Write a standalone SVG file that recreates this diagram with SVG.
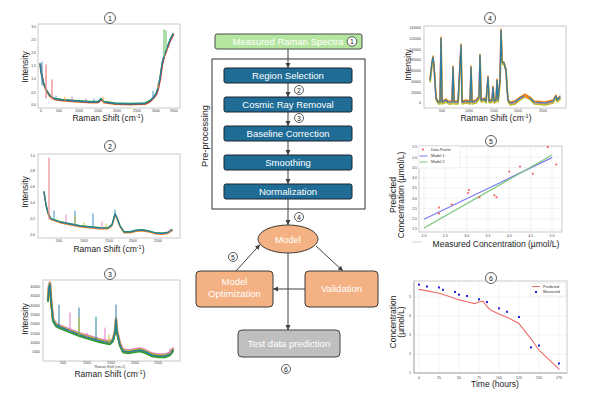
<svg xmlns="http://www.w3.org/2000/svg" width="600" height="400" viewBox="0 0 600 400">
<defs>
<style>
.frame{fill:#fff;stroke:#c9c9c9;stroke-width:1}
.tk{font-family:"Liberation Sans",Arial,sans-serif;font-size:3.5px;fill:#444}
.tkr{text-anchor:end}
.tkm{text-anchor:middle}
.ax{font-family:"Liberation Sans",Arial,sans-serif;font-size:8.5px;fill:#222;text-anchor:middle}
.cn circle{fill:#fff;stroke:#333;stroke-width:0.8}
.cn text{font-family:"Liberation Sans",Arial,sans-serif;font-size:7px;fill:#222;text-anchor:middle}
.blue rect{fill:#1f6d97;stroke:#1a2530;stroke-width:1}
.wt{font-family:"Liberation Sans",Arial,sans-serif;font-size:9.5px;fill:#fff;text-anchor:middle}
.org{fill:#f4b183;stroke:#3a3a3a;stroke-width:1}
.conn{stroke:#404040;stroke-width:1;fill:none;marker-end:url(#ah)}
.grid{stroke:#e6e6e6;stroke-width:0.5;fill:none}
.sp{fill:none;stroke-linejoin:round;stroke-linecap:round}
.lg{font-family:"Liberation Sans",Arial,sans-serif;font-size:3.8px;fill:#333}
</style>
<marker id="ah" markerWidth="6" markerHeight="6" refX="5" refY="3" orient="auto" markerUnits="userSpaceOnUse"><path d="M0,0.5 L5,3 L0,5.5 z" fill="#404040"/></marker>
<path id="s1" d="M40,64 L41,72 L43,82 L46,90 L50,96 L55,99 L62,100 L75,101 L90,102 L98,102 L101,99 L104,102 L115,103.5 L130,104 L145,103.5 L150,101 L153,98 L156,94 L158,88 L160,78 L162,64 L164,56 L167,48 L170,40 L173,34"/>
<path id="s2" d="M44,192 L46,205 L48,213 L51,219 L54,220 L60,222 L70,224 L80,226 L90,227 L100,228 L108,228 L112,225 L115,214 L117,218 L120,226 L124,232 L130,232 L136,230.5 L142,230 L148,231 L155,233 L162,233.5 L168,232.5 L172,230"/>
<path id="s3" d="M48,300 L49,287 L50,284 L51,300 L53,320 L56,325 L60,327 L70,331 L80,335 L90,338 L100,341 L110,343 L113,340 L115,332 L116,320 L117,332 L120,345 L123,351 L128,352 L134,351 L140,350 L146,352 L152,355 L158,356 L165,356 L170,354 L173,350"/>
<path id="s4" d="M430,80 L432,62 L433,57 L434,66 L436,98 L438,102 L440,102 L441,38 L442,102 L446,100 L448,102 L452,102 L453,67 L454,102 L458,102 L461,45 L462,102 L466,101 L470,102 L471,67 L472,102 L476,101 L479,97 L480,55 L481,100 L484,99 L486,101 L488,77 L489,101 L492,100 L493,87 L494,101 L496,100 L497,80 L498,100 L500,80 L501,30 L502,62 L504,63 L506,70 L507,88 L508,100 L510,103 L515,102 L520,98 L525,95 L530,98 L534,102 L545,103 L553,101 L556,96 L557,100 L560,97"/>
</defs>
<rect width="600" height="400" fill="#fff"/>

<!-- Plot 1 -->
<g id="plot1">
<rect class="frame" x="38" y="24" width="142" height="84"/>
<g class="tk tkr"><text x="36" y="28.2">3.0</text><text x="36" y="41.2">2.5</text><text x="36" y="54.2">2.0</text><text x="36" y="67.2">1.5</text><text x="36" y="80.2">1.0</text><text x="36" y="94.2">0.5</text><text x="36" y="106.2">0.0</text></g>
<g class="tk tkm"><text x="41" y="112">0</text><text x="59" y="112">500</text><text x="79" y="112">1000</text><text x="98" y="112">1500</text><text x="117" y="112">2000</text><text x="137" y="112">2500</text><text x="156" y="112">3000</text><text x="174" y="112">3500</text></g>
<g class="sp">
<use href="#s1" stroke="#ff7f0e" stroke-width="1.4" transform="translate(0,0.8)"/>
<use href="#s1" stroke="#d62728" stroke-width="1.2" transform="translate(0.6,0.4)"/>
<use href="#s1" stroke="#2ca02c" stroke-width="1.2" transform="translate(0,-0.6)"/>
<use href="#s1" stroke="#2b7fa3" stroke-width="1.3"/>
<path d="M46,98V65M52,99V80" stroke="#ec8b8a" stroke-width="1.3"/>
<path d="M42,85V62M56,99.5V96M94,102V99M153,98V91" stroke="#3a8fc8" stroke-width="0.9"/>
<path d="M65,100.5V97M158,88V84M103,102V97" stroke="#ff9f40" stroke-width="0.9"/>
<path d="M72,101V97M86,102V99" stroke="#9467bd" stroke-width="0.9"/>
<path d="M164,56V30M166,50V31" stroke="#86cf86" stroke-width="1.4"/>
</g>
<text class="ax" transform="translate(28,67) rotate(-90)">Intensity</text>
<text class="ax" x="108" y="121">Raman Shift (cm<tspan font-size="5.5" dy="-3">-1</tspan><tspan dy="3">)</tspan></text>
<g class="cn"><circle cx="110" cy="18" r="5.5"/><text x="110" y="20.6">1</text></g>
</g>

<!-- Plot 2 -->
<g id="plot2">
<rect class="frame" x="38" y="154" width="142" height="84"/>
<g class="tk tkr"><text x="35" y="157.2">1.0</text><text x="35" y="172.2">0.8</text><text x="35" y="188.2">0.6</text><text x="35" y="204.2">0.4</text><text x="35" y="220.2">0.2</text><text x="35" y="236.2">0.0</text></g>
<g class="tk tkm"><text x="59" y="242">500</text><text x="84" y="242">1000</text><text x="109" y="242">1500</text><text x="133" y="242">2000</text><text x="158" y="242">2500</text></g>
<g class="sp">
<use href="#s2" stroke="#ff7f0e" stroke-width="1.4" transform="translate(0,0.7)"/>
<use href="#s2" stroke="#2ca02c" stroke-width="1.2" transform="translate(0,-0.5)"/>
<use href="#s2" stroke="#2b7fa3" stroke-width="1.3"/>
<path d="M49,219V158" stroke="#ec8b8a" stroke-width="1.2"/>
<path d="M54,219V211M75,224V211M93,227V214M115,214V210" stroke="#3a8fc8" stroke-width="1"/>
<path d="M66,222V215M102,228V222M170,232V229" stroke="#e377c2" stroke-width="0.9"/>
<path d="M84,226V223M106,228V224M75,224V216" stroke="#bcbd22" stroke-width="0.9"/>
</g>
<text class="ax" transform="translate(28,192) rotate(-90)">Intensity</text>
<text class="ax" x="109" y="252">Raman Shift (cm<tspan font-size="5.5" dy="-3">-1</tspan><tspan dy="3">)</tspan></text>
<g class="cn"><circle cx="110" cy="146" r="5.5"/><text x="110" y="148.6">2</text></g>
</g>

<!-- Plot 3 -->
<g id="plot3">
<rect class="frame" x="43" y="280" width="137" height="81"/>
<g class="tk tkr"><text x="40" y="288.2">40000</text><text x="40" y="297.2">35000</text><text x="40" y="307.2">30000</text><text x="40" y="316.2">25000</text><text x="40" y="325.2">20000</text><text x="40" y="335.2">15000</text><text x="40" y="344.2">10000</text><text x="40" y="353.2">5000</text></g>
<g class="tk tkm"><text x="63" y="364">500</text><text x="87" y="364">1000</text><text x="111" y="364">1500</text><text x="135" y="364">2000</text><text x="158" y="364">2500</text></g>
<text class="tk tkm" x="110" y="367.5" font-size="2.2">Raman Shift (cm-1)</text>
<g class="sp">
<use href="#s3" stroke="#e377c2" stroke-width="2.4" transform="translate(0,-1.5)"/>
<use href="#s3" stroke="#bcbd22" stroke-width="2.4" transform="translate(0,-0.5)"/>
<use href="#s3" stroke="#ff7f0e" stroke-width="2" transform="translate(0,0.8)"/>
<use href="#s3" stroke="#2ca02c" stroke-width="1.6" transform="translate(0,1.5)"/>
<use href="#s3" stroke="#2b7fa3" stroke-width="1.4"/>
<path d="M59,327V305M79,335V308M116,320V305M96,339V317" stroke="#2b7fa3" stroke-width="1"/>
<path d="M70,331V313M105,342V328M87,337V333M170,354V349" stroke="#e377c2" stroke-width="1"/>
<path d="M109,343V335M79,335V318" stroke="#bcbd22" stroke-width="1"/>
</g>
<text class="ax" transform="translate(28,319) rotate(-90)">Intensity</text>
<text class="ax" x="110" y="377">Raman Shift (cm<tspan font-size="5.5" dy="-3">-1</tspan><tspan dy="3">)</tspan></text>
<g class="cn"><circle cx="110" cy="274" r="5.5"/><text x="110" y="276.6">3</text></g>
</g>

<!-- Plot 4 -->
<g id="plot4">
<rect class="frame" x="424" y="26" width="142" height="82"/>
<g class="tk tkr"><text x="421" y="104.2">0</text><text x="421" y="93.5">20000</text><text x="421" y="82.8">40000</text><text x="421" y="72.1">60000</text><text x="421" y="61.4">80000</text><text x="421" y="50.7">100000</text><text x="421" y="40">120000</text><text x="421" y="29.3">140000</text></g>
<g class="tk tkm"><text x="442" y="112">500</text><text x="469" y="112">1000</text><text x="494" y="112">1500</text><text x="518" y="112">2000</text><text x="543" y="112">2500</text></g>
<g class="sp">
<use href="#s4" stroke="#e377c2" stroke-width="1.6" transform="translate(0,1)"/>
<use href="#s4" stroke="#bcbd22" stroke-width="1.4" transform="translate(0.3,2)"/>
<use href="#s4" stroke="#ff7f0e" stroke-width="1.3" transform="translate(0,-1)"/>
<use href="#s4" stroke="#2b7fa3" stroke-width="1.2"/>
<path d="M525,95.5 L528,97" stroke="#ff7f0e" stroke-width="2.5"/>
</g>
<text class="ax" transform="translate(411,65) rotate(-90)">Intensity</text>
<text class="ax" x="496" y="121">Raman Shift (cm<tspan font-size="5.5" dy="-3">-1</tspan><tspan dy="3">)</tspan></text>
<g class="cn"><circle cx="490" cy="18" r="5.5"/><text x="490" y="20.6">4</text></g>
</g>

<!-- Plot 5 -->
<g id="plot5">
<rect class="frame" x="419" y="146" width="143" height="86"/>
<path class="grid" d="M419,229H562M419,218.75H562M419,208.5H562M419,198.25H562M419,188H562M419,177.75H562M419,167.5H562M419,157.25H562M419,147H562M424,146V232M445.3,146V232M466.7,146V232M488,146V232M509.3,146V232M530.7,146V232M552,146V232"/>
<g class="tk tkr"><text x="417" y="230.2">1.5</text><text x="417" y="220">2.0</text><text x="417" y="209.7">2.5</text><text x="417" y="199.5">3.0</text><text x="417" y="189.2">3.5</text><text x="417" y="179">4.0</text><text x="417" y="168.7">4.5</text><text x="417" y="158.5">5.0</text><text x="417" y="148.2">5.5</text></g>
<g class="tk tkm"><text x="424" y="236.5">2.0</text><text x="445.3" y="236.5">2.5</text><text x="466.7" y="236.5">3.0</text><text x="488" y="236.5">3.5</text><text x="509.3" y="236.5">4.0</text><text x="530.7" y="236.5">4.5</text><text x="552" y="236.5">5.0</text></g>
<line x1="424" y1="219.2" x2="552" y2="157.6" stroke="#7b7bf0" stroke-width="1.2"/>
<line x1="424" y1="228" x2="552" y2="155" stroke="#78c878" stroke-width="1.2"/>
<g fill="#f05050">
<circle cx="438.9" cy="207.5" r="1"/><circle cx="438.9" cy="213.6" r="1"/><circle cx="451.7" cy="204.4" r="1"/><circle cx="468.8" cy="190" r="1"/><circle cx="468" cy="193.1" r="1"/><circle cx="479.5" cy="197.2" r="1"/><circle cx="494.4" cy="195.2" r="1"/><circle cx="496.5" cy="197.2" r="1"/><circle cx="509.3" cy="171.6" r="1"/><circle cx="520" cy="166.5" r="1"/><circle cx="532.8" cy="173.7" r="1"/><circle cx="547.7" cy="147" r="1"/><circle cx="556.3" cy="164.4" r="1"/>
</g>
<rect x="418" y="146" width="42" height="22" rx="1" fill="#fff" fill-opacity="0.85" stroke="#ddd" stroke-width="0.5"/>
<circle cx="423" cy="149.5" r="1" fill="#f05050"/>
<line x1="419.5" y1="156" x2="427.5" y2="156" stroke="#7b7bf0" stroke-width="1"/>
<line x1="419.5" y1="162" x2="427.5" y2="162" stroke="#78c878" stroke-width="1"/>
<text class="lg" x="431" y="150.8">Data Points</text>
<text class="lg" x="431" y="157.3">Model 1</text>
<text class="lg" x="431" y="163.3">Model 2</text>
<line x1="412" y1="242" x2="422" y2="242" stroke="#ccc" stroke-width="0.8"/>
<text class="ax" font-size="7.5" transform="translate(396,195) rotate(-90)">Predicted</text>
<text class="ax" font-size="7.5" transform="translate(404,195) rotate(-90)">Concentration (µmol/L)</text>
<text class="ax" font-size="8" x="496" y="247">Measured Concentration (µmol/L)</text>
<g class="cn"><circle cx="491" cy="141" r="5.5"/><text x="491" y="143.6">5</text></g>
</g>

<!-- Plot 6 -->
<g id="plot6">
<rect class="frame" x="414" y="281" width="153" height="92"/>
<path class="grid" d="M414,297H567M414,316H567M414,335H567M414,354H567M419,281V373M439,281V373M459,281V373M479,281V373M499,281V373M519,281V373M539,281V373M559,281V373"/>
<path d="M414,281V373H567" fill="none" stroke="#999" stroke-width="0.6"/>
<g class="tk tkr"><text x="411" y="374.2">1</text><text x="411" y="355.2">2</text><text x="411" y="336.2">3</text><text x="411" y="317.2">4</text><text x="411" y="298.2">5</text></g>
<g class="tk tkm"><text x="419" y="378.5">0</text><text x="439" y="378.5">25</text><text x="459" y="378.5">50</text><text x="479" y="378.5">75</text><text x="499" y="378.5">100</text><text x="519" y="378.5">125</text><text x="539" y="378.5">150</text><text x="559" y="378.5">175</text></g>
<polyline class="sp" stroke="#ee6a6a" stroke-width="1.1" points="419,289.4 427,290.9 439,293.2 451,297 459,299.9 467,301.75 475,303.65 479,301.75 483,301.2 487,306.5 491,310.3 499,314.1 508.6,317.9 519,323.6 531,338.8 539,350.2 559,369.2"/>
<g fill="#2020e0">
<rect x="418" y="283.6" width="2" height="2"/><rect x="426" y="285.5" width="2" height="2"/><rect x="438" y="286.5" width="2" height="2"/><rect x="442" y="288.8" width="2" height="2"/><rect x="454" y="290.9" width="2" height="2"/><rect x="458" y="293.7" width="2" height="2"/><rect x="466" y="295" width="2" height="2"/><rect x="478" y="298.3" width="2" height="2"/><rect x="486" y="301.1" width="2" height="2"/><rect x="498" y="307.4" width="2" height="2"/><rect x="506" y="310.8" width="2" height="2"/><rect x="518" y="316" width="2" height="2"/><rect x="530" y="346.4" width="2" height="2"/><rect x="538" y="344.5" width="2" height="2"/><rect x="558" y="362.5" width="2" height="2"/>
</g>
<rect x="530" y="283" width="36" height="13" rx="1" fill="#fff" stroke="#ddd" stroke-width="0.5"/>
<line x1="532" y1="286.5" x2="540" y2="286.5" stroke="#ee6a6a" stroke-width="1"/>
<rect x="535" y="291" width="2" height="2" fill="#2020e0"/>
<text class="lg" font-size="3.5" x="543" y="287.8">Predicted</text>
<text class="lg" font-size="3.5" x="543" y="293.3">Measured</text>
<text class="ax" font-size="8" transform="translate(396,322) rotate(-90)">Concentration</text>
<text class="ax" font-size="8" transform="translate(404,322) rotate(-90)">(µmol/L)</text>
<text class="ax" font-size="8" x="495" y="387">Time (hours)</text>
<g class="cn"><circle cx="491" cy="278" r="5.5"/><text x="491" y="280.6">6</text></g>
</g>

<!-- Flowchart -->
<g id="preprocessing">
<rect x="212" y="59" width="153" height="150" fill="#fff" stroke="#333" stroke-width="1"/>
<text font-family="Liberation Sans, Arial, sans-serif" font-size="9.2" fill="#222" text-anchor="middle" transform="translate(208,136) rotate(-90)">Pre-processing</text>
</g>

<g id="connectors">
<line class="conn" x1="288" y1="49" x2="288" y2="68"/>
<line class="conn" x1="288" y1="83" x2="288" y2="97"/>
<line class="conn" x1="288" y1="112" x2="288" y2="126"/>
<line class="conn" x1="288" y1="141" x2="288" y2="155"/>
<line class="conn" x1="288" y1="170" x2="288" y2="184"/>
<line class="conn" x1="288" y1="199" x2="288" y2="225"/>
<line class="conn" x1="288" y1="253" x2="288" y2="330"/>
<line class="conn" x1="236" y1="271" x2="260" y2="244.5"/>
<line class="conn" x1="316" y1="246" x2="343" y2="271"/>
<line class="conn" x1="305" y1="289" x2="273" y2="289"/>
</g>

<g id="measured">
<rect x="215" y="34" width="147" height="15" rx="2" fill="#b5e6a0" stroke="#4a4a4a" stroke-width="1"/>
<text class="wt" x="288" y="44.8">Measured Raman Spectra</text>
<g class="cn"><circle cx="352" cy="41.5" r="4.8"/><text x="352" y="44">1</text></g>
</g>
<g id="region" class="blue"><rect x="224" y="68" width="128" height="15" rx="2"/><text class="wt" x="288" y="78.8">Region Selection</text></g>
<g id="cosmic" class="blue"><rect x="224" y="97" width="128" height="15" rx="2"/><text class="wt" x="288" y="107.8">Cosmic Ray Removal</text></g>
<g id="baseline" class="blue"><rect x="224" y="126" width="128" height="15" rx="2"/><text class="wt" x="288" y="136.8">Baseline Correction</text></g>
<g id="smoothing" class="blue"><rect x="224" y="155" width="128" height="15" rx="2"/><text class="wt" x="288" y="165.8">Smoothing</text></g>
<g id="normalization" class="blue"><rect x="224" y="184" width="128" height="15" rx="2"/><text class="wt" x="288" y="194.8">Normalization</text></g>

<g id="model"><ellipse class="org" cx="288" cy="239" rx="30" ry="14"/><text class="wt" x="288" y="242.5">Model</text></g>
<g id="optimization"><rect class="org" x="196" y="271" width="77" height="36" rx="4"/><text class="wt" x="234.5" y="285">Model</text><text class="wt" x="234.5" y="297">Optimization</text></g>
<g id="validation"><rect class="org" x="305" y="271" width="73" height="36" rx="4"/><text class="wt" x="341.5" y="292">Validation</text></g>
<g id="test"><rect x="238" y="330" width="102" height="27" rx="4" fill="#bfbfbf" stroke="#444" stroke-width="1"/><text class="wt" x="289" y="347">Test data prediction</text></g>

<g class="cn">
<g id="n2"><circle cx="299" cy="90" r="4.5"/><text x="299" y="92.5">2</text></g>
<g id="n3"><circle cx="299" cy="118" r="4.5"/><text x="299" y="120.5">3</text></g>
<g id="n4"><circle cx="299" cy="217" r="4.5"/><text x="299" y="219.5">4</text></g>
<g id="n5"><circle cx="233" cy="257" r="4.5"/><text x="233" y="259.5">5</text></g>
<g id="n6"><circle cx="286" cy="369" r="4.5"/><text x="286" y="371.5">6</text></g>
</g>
</svg>
